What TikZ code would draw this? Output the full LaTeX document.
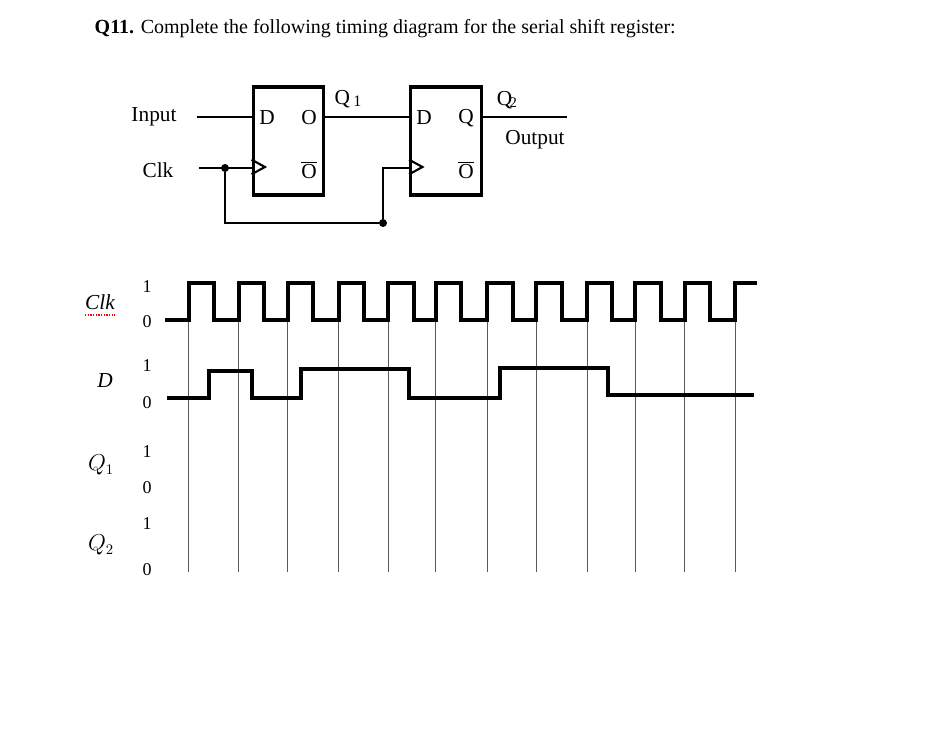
\documentclass[tikz,border=0pt]{standalone}
\usepackage{fontspec}
\setmainfont{Liberation Serif}
\begin{document}
\begin{tikzpicture}[x=0.75pt,y=-0.75pt,
 ff/.style={draw,line width=2.4pt,minimum width=53pt,minimum height=81pt,inner sep=0},
 wire/.style={line width=1.2pt},
 sig/.style={line width=3pt},
 grid/.style={line width=0.5pt,gray!70!black},
 lab/.style={font=\fontsize{16}{18}\selectfont},
 lv/.style={font=\fontsize{13.5}{15}\selectfont},
 dot/.style={circle,fill,inner sep=0,minimum size=6pt}]
\useasboundingbox (0,0) rectangle (940,738);
\node[anchor=west,font=\fontsize{15}{17}\selectfont] (title) at (90,29) {\textbf{Q11.} Complete the following timing diagram for the serial shift register:};
% flip-flops
\node[ff] (f1) at (288.5,141) {};
\node[ff] (f2) at (446,141) {};
\node[lab] (d1) at (267,118) {D};
\node[lab] (q1) at (309,118) {O};
\node[lab] (qb1) at (309,170) {$\overline{\mbox{O}}$};
\node[lab] (d2) at (424,118) {D};
\node[lab] (q2) at (466,118) {Q};
\node[lab] (qb2) at (466,170) {$\overline{\mbox{O}}$};
\foreach \f in {f1,f2}{
 \draw[line width=1.6pt] ([yshift=-14pt]\f.west) -- ++(10pt,-5.5pt) -- ++(-10pt,-5.5pt);}
\node[lab] (in) at (154,117) {Input};
\node[lab] (clk) at (158,170) {Clk};
\node[lab] (lq1) at (348,99) {Q\,{\fontsize{12}{13}\selectfont\raisebox{-2pt}{1}}};
\node[lab] (lq2) at (507,100) {Q\kern-2pt{\fontsize{11}{12}\selectfont\raisebox{-2pt}{2}}};
\node[lab] (out) at (535,140) {Output};
\coordinate (inS) at (197,117);
\coordinate (clkS) at (199,168);
\coordinate (outE) at (567,117);
\node[dot] (j1) at (225,168) {};
\node[dot] (j2) at (383,223) {};
\draw[wire] (inS) -- (inS -| f1.west);
\draw[wire] (f1.east |- inS) -- (f2.west |- inS);
\draw[wire] (f2.east |- outE) -- (outE);
\draw[wire] (clkS) -- (clkS -| f1.west);
\draw[wire] (j1) -- (j1 |- j2) -- (j2) -- (j2 |- clkS) -- (clkS -| f2.west);
% timing labels
\node[font=\fontsize{16}{18}\selectfont\itshape] (lclk) at (100,302) {Clk};
\draw[red,line width=0.8pt,dash pattern=on 1pt off 1pt] (85,315) -- (115,315);
\node[font=\fontsize{16}{18}\selectfont\itshape] (ld) at (105,381) {D};
\node[font=\fontsize{16}{18}\selectfont\itshape] (lq1t) at (101,465) {$Q_1$};
\node[font=\fontsize{16}{18}\selectfont\itshape] (lq2t) at (101,545) {$Q_2$};
\foreach \y/\t in {287/1,322/0,366/1,403/0,452/1,488/0,524/1,570/0}
 \node[lv] at (147,\y) {\t};
% grid
\foreach \x in {188.7,238.5,287.8,338.5,388,435.8,487.4,536.2,586.9,635.3,684.6,734.9}
 \draw[grid] (\x,283) -- (\x,572);
% clock
\draw[sig,line join=miter] (165,320)
 \foreach \r in {188.7,238.5,287.8,338.5,388,435.8,487.4,536.2,586.9,635.3,684.6}{
  -- (\r,320) -- (\r,283) -- (\r+25.5,283) -- (\r+25.5,320)}
 -- (734.9,320) -- (734.9,283) -- (757,283);
% D
\draw[sig,line join=miter] (167,398) -- (209,398) -- (209,371) -- (252,371) -- (252,398)
 -- (301,398) -- (301,369) -- (409,369) -- (409,398) -- (500,398) -- (500,368)
 -- (608,368) -- (608,395) -- (754,395);
\end{tikzpicture}
\end{document}
